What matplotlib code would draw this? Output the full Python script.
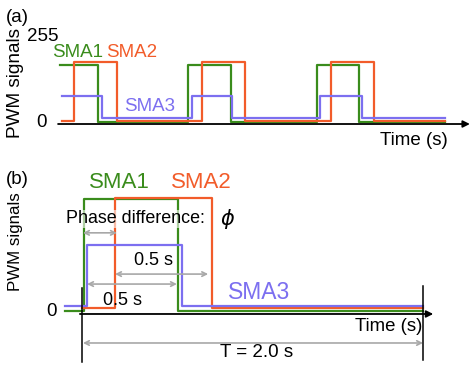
import matplotlib
matplotlib.use("Agg")
import matplotlib.pyplot as plt

plt.rcParams['font.family'] = ['Liberation Sans', 'DejaVu Sans']

GREEN = '#3a8c1c'
RED = '#f25c2a'
BLUE = '#7c6ff0'
GRAY = '#a8a8a8'

# panel (a): three periods, times in s
a_end = 6.0
a_sma1_rise = [0.0, 2.0, 4.0]
a_sma1_fall = [0.59, 2.66, 4.65]
a_sma2_rise = [0.22, 2.21, 4.22]
a_sma2_fall = [0.89, 2.88, 4.89]
a_sma3_rise = [0.03, 2.05, 4.05]
a_sma3_fall = [0.65, 2.68, 4.70]
a_high = {'SMA1': 173, 'SMA2': 182, 'SMA3': 82}
a_low = {'SMA1': 6, 'SMA2': 9, 'SMA3': 18}

# panel (b): one period T = 2.0 s
b_start = -0.1
b_end = 2.0
b_sma1 = (0.01, 0.563)
b_sma2 = (0.194, 0.762)
b_sma3 = (0.03, 0.587)
b_high = {'SMA1': 173, 'SMA2': 175, 'SMA3': 103}
b_low = {'SMA1': 5, 'SMA2': 9.5, 'SMA3': 12}


def pulses(start, end, rises, falls, low, high):
    t = [start]
    v = [low if rises[0] > start else high]
    for r, f in zip(rises, falls):
        if r > start:
            t += [r, r]
            v += [low, high]
        t += [f, f]
        v += [high, low]
    t.append(end)
    v.append(low)
    return t, v


fig = plt.figure(figsize=(4.74, 3.66), dpi=100)

# ---- (a)
ax = fig.add_axes([40 / 474, 1 - 134 / 366, 434 / 474, 104 / 366])
ax.set_xlim(-0.311, 6.444)
ax.set_ylim(-29.3, 275.5)
ax.axis('off')

for name, rises, falls, col, start in [
        ('SMA1', a_sma1_rise, a_sma1_fall, GREEN, 0.0),
        ('SMA2', a_sma2_rise, a_sma2_fall, RED, 0.03),
        ('SMA3', a_sma3_rise, a_sma3_fall, BLUE, 0.03)]:
    t, v = pulses(start, a_end, rises, falls, a_low[name], a_high[name])
    ax.plot(t, v, color=col, lw=1.6)

ax.annotate('', xy=(6.38, 0), xytext=(-0.03, 0),
            arrowprops=dict(arrowstyle='-|>', color='black', lw=1.3,
                            mutation_scale=10, shrinkA=0, shrinkB=0))
ax.text(0.27, 211, 'SMA1', color=GREEN, fontsize=13.5, ha='center', va='center')
ax.text(1.12, 211, 'SMA2', color=RED, fontsize=13.5, ha='center', va='center')
ax.text(1.40, 50, 'SMA3', color=BLUE, fontsize=13.5, ha='center', va='center')
ax.text(-0.02, 255, '255', fontsize=13.5, ha='right', va='center')
ax.text(-0.2, 4, '0', fontsize=13.5, ha='right', va='center')
ax.text(6.04, -47, 'Time (s)', fontsize=13.5, ha='right', va='center')

# ---- (b)
bx = fig.add_axes([40 / 474, 0, 434 / 474, 201 / 366])
bx.set_xlim(-0.246, 2.299)
bx.set_ylim(-78.2, 224)
bx.axis('off')

for name, (r, f), col, start in [
        ('SMA1', b_sma1, GREEN, b_start),
        ('SMA2', b_sma2, RED, 0.0),
        ('SMA3', b_sma3, BLUE, b_start)]:
    t, v = pulses(start, b_end, [r], [f], b_low[name], b_high[name])
    bx.plot(t, v, color=col, lw=1.6)

bx.annotate('', xy=(2.06, 0), xytext=(-0.012, 0),
            arrowprops=dict(arrowstyle='-|>', color='black', lw=1.3,
                            mutation_scale=10, shrinkA=0, shrinkB=0))
bx.plot([0, 0], [39, -72], color='black', lw=1.1)
bx.plot([b_end, b_end], [42, -69], color='black', lw=1.1)

gray = dict(arrowstyle='<->', color=GRAY, lw=1.2, mutation_scale=8,
            shrinkA=0, shrinkB=0)
bx.annotate('', xy=(0.205, 122), xytext=(0.006, 122), arrowprops=gray)
bx.annotate('', xy=(0.74, 60), xytext=(0.194, 60), arrowprops=gray)
bx.annotate('', xy=(0.557, 45), xytext=(0.03, 45), arrowprops=gray)
bx.annotate('', xy=(2.0, -43.6), xytext=(0.006, -43.6), arrowprops=gray)

bx.text(-0.094, 143, 'Phase difference:', fontsize=12.9, ha='left', va='center',
        bbox=dict(facecolor='white', edgecolor='none', alpha=0.6, pad=0.5))
bx.text(0.856, 143, r'$\phi$', fontsize=15, ha='center', va='center')
bx.text(0.42, 81, '0.5 s', fontsize=13, ha='center', va='center')
bx.text(0.235, 21, '0.5 s', fontsize=13, ha='center', va='center')
bx.text(1.026, -58.6, 'T = 2.0 s', fontsize=13.5, ha='center', va='center')
bx.text(0.217, 197, 'SMA1', color=GREEN, fontsize=16, ha='center', va='center')
bx.text(0.698, 197, 'SMA2', color=RED, fontsize=16, ha='center', va='center')
bx.text(1.04, 33, 'SMA3', color=BLUE, fontsize=16.5, ha='center', va='center')
bx.text(-0.176, 3, '0', fontsize=13.5, ha='center', va='center')
bx.text(1.994, -19.5, 'Time (s)', fontsize=13.4, ha='right', va='center')

# panel letters and y labels
fig.text(6 / 474, 1 - 17 / 366, '(a)', fontsize=13.5, ha='left', va='center')
fig.text(6 / 474, 1 - 180 / 366, '(b)', fontsize=13.5, ha='left', va='center')
fig.text(16 / 474, 1 - 83 / 366, 'PWM signals', fontsize=13.7, rotation=90,
         ha='center', va='center')
fig.text(16 / 474, 1 - 242 / 366, 'PWM signals', fontsize=12.2, rotation=90,
         ha='center', va='center')

fig.savefig('out.png', dpi=100)
